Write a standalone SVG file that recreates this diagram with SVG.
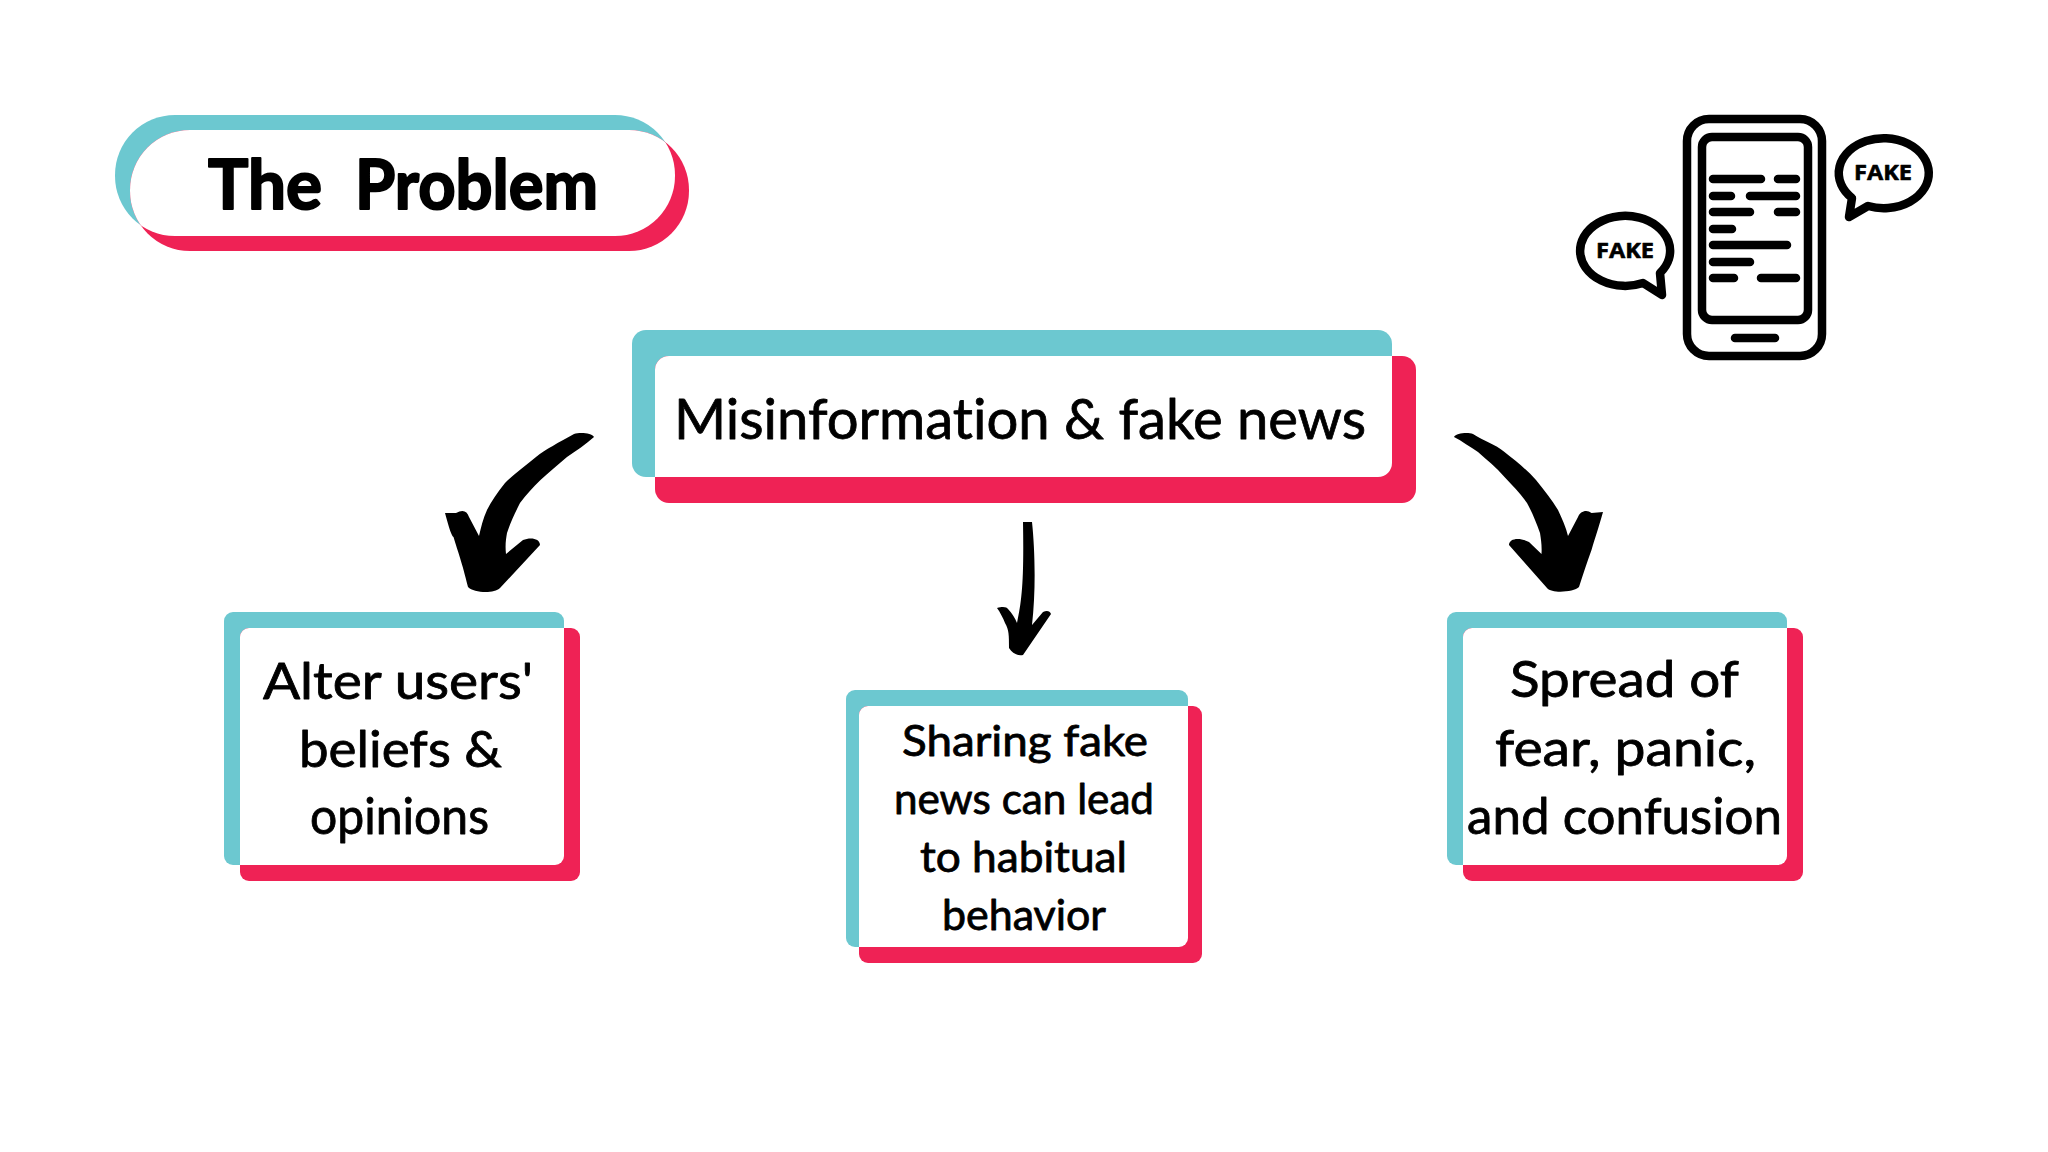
<svg xmlns="http://www.w3.org/2000/svg" width="2048" height="1152" viewBox="0 0 2048 1152">
<style>
.teal{fill:#6cc8d0}.red{fill:#ef2255}.white{fill:#fff}
text{font-family:"Comic Sans MS","Lato","Open Sans",sans-serif;fill:#000;stroke:#000;stroke-linejoin:round;font-variant-ligatures:none}
.t{stroke-width:.8}
.h{font-weight:700;font-size:68px;stroke-width:2}
.m{font-size:57px}.b{font-size:50px}.s{font-size:42px}
.f{font-family:"Open Sans",sans-serif;font-weight:700;font-size:21px;stroke-width:.6}
.ln{fill:none;stroke:#000;stroke-width:8.500;stroke-linecap:round;stroke-linejoin:round}
</style>
<defs>
<clipPath id="c0"><rect x="115" y="115" width="560" height="121" rx="60"/></clipPath>
<clipPath id="c1"><rect x="632" y="330" width="760" height="147" rx="14"/></clipPath>
<clipPath id="c2"><rect x="224" y="612" width="340" height="253" rx="9"/></clipPath>
<clipPath id="c3"><rect x="846" y="690" width="342" height="257" rx="9"/></clipPath>
<clipPath id="c4"><rect x="1447" y="612" width="340" height="253" rx="9"/></clipPath>
</defs>
<rect width="2048" height="1152" fill="#fff"/>
<g id="title">
<rect class="teal" x="115" y="115" width="560" height="121" rx="60"/>
<rect class="red" x="130" y="130" width="559" height="121" rx="60"/>
<rect class="white" x="130" y="130" width="559" height="121" rx="60" clip-path="url(#c0)"/>
<text class="h" y="209"><tspan x="208" textLength="114" lengthAdjust="spacingAndGlyphs">The</tspan> <tspan x="355" textLength="243" lengthAdjust="spacingAndGlyphs">Problem</tspan></text>
</g>
<g id="main">
<rect class="teal" x="632" y="330" width="760" height="147" rx="14"/>
<rect class="red" x="655" y="356" width="761" height="147" rx="14"/>
<rect class="white" x="655" y="356" width="761" height="147" rx="14" clip-path="url(#c1)"/>
<text class="t m" x="674" y="439" textLength="692" lengthAdjust="spacingAndGlyphs">Misinformation &amp; fake news</text>
</g>
<g id="alter">
<rect class="teal" x="224" y="612" width="340" height="253" rx="9"/>
<rect class="red" x="240" y="628" width="340" height="253" rx="9"/>
<rect class="white" x="240" y="628" width="340" height="253" rx="9" clip-path="url(#c2)"/>
<text class="t b" x="263" y="699" textLength="270" lengthAdjust="spacingAndGlyphs">Alter users'</text>
<text class="t b" x="299" y="767" textLength="203" lengthAdjust="spacingAndGlyphs">beliefs &amp;</text>
<text class="t b" x="310" y="834" textLength="179" lengthAdjust="spacingAndGlyphs">opinions</text>
</g>
<g id="sharing">
<rect class="teal" x="846" y="690" width="342" height="257" rx="9"/>
<rect class="red" x="859" y="706" width="343" height="257" rx="9"/>
<rect class="white" x="859" y="706" width="343" height="257" rx="9" clip-path="url(#c3)"/>
<text class="t s" x="902" y="756" textLength="246" lengthAdjust="spacingAndGlyphs">Sharing fake</text>
<text class="t s" x="894" y="814" textLength="260" lengthAdjust="spacingAndGlyphs">news can lead</text>
<text class="t s" x="920" y="872" textLength="207" lengthAdjust="spacingAndGlyphs">to habitual</text>
<text class="t s" x="942" y="930" textLength="164" lengthAdjust="spacingAndGlyphs">behavior</text>
</g>
<g id="spread">
<rect class="teal" x="1447" y="612" width="340" height="253" rx="9"/>
<rect class="red" x="1463" y="628" width="340" height="253" rx="9"/>
<rect class="white" x="1463" y="628" width="340" height="253" rx="9" clip-path="url(#c4)"/>
<text class="t b" x="1510" y="697" textLength="229" lengthAdjust="spacingAndGlyphs">Spread of</text>
<text class="t b" x="1495" y="766" textLength="261" lengthAdjust="spacingAndGlyphs">fear, panic,</text>
<text class="t b" x="1467" y="834" textLength="315" lengthAdjust="spacingAndGlyphs">and confusion</text>
</g>
<g id="phone">
<rect class="ln" x="1687" y="119" width="135" height="237" rx="22"/>
<rect class="ln" x="1702" y="137" width="106" height="183" rx="10"/>
<path class="ln" d="M1735 338H1775M1713 179H1761M1778 179H1796M1713 196H1731M1750 196H1796M1713 212H1750M1778 212H1796M1713 229H1732M1713 245H1787M1713 262H1750M1713 278H1734M1761 278H1796"/>
</g>
<g id="bubble-right">
<path class="ln" d="M1868 206A45 35 0 1 0 1852 198L1849 217Z"/>
<text class="f" x="1854" y="180" textLength="58" lengthAdjust="spacingAndGlyphs">FAKE</text>
</g>
<g id="bubble-left">
<path class="ln" d="M1660 273A45 35 0 1 0 1643 283L1662 295Z"/>
<text class="f" x="1596" y="258" textLength="58" lengthAdjust="spacingAndGlyphs">FAKE</text>
</g>
<g id="connectors" fill="#000">
<path d="M594 437C592 433 580 432 574 434C558 443 546 449 536 457C524 467 514 474 505 483C497 493 491 502 487 510C483 519 481 527 479 536L469 517C467 511 463 509 456 513L445 513C449 528 452 537 453.500 537C458 552 462 562 468 587C474 593 494 594 500 588L540 545C540 538 530 537 523 540L506 554C505 545 506 539 507 533C511 521 515 513 520 503C526 495 533 487 540.500 480C549 472 558 465 567 457C576 451 586 444 594 437Z"/>
<path d="M1023 522H1032C1035 550 1036 590 1032 625L1043 612C1047 610 1050 611 1051 614L1023 655C1018 656 1013 654 1009 648C1009 635 1009 630 1005 623C1003 618 1000 612 997 608C1003 606 1007 607 1008 609C1012 613 1015 618 1017 623C1022 600 1024 580 1023 522Z"/>
<path d="M1454 437C1456 433 1468 432 1473 434C1484 441 1495 444 1504.500 452C1516 461 1527 470 1536 480C1544 490 1552 500 1558 510C1562 519 1566 527 1568 536L1578 517C1580 511 1587 509 1591.500 513L1603 512C1598 530 1595 538 1591.500 550C1587 562 1583 575 1579 587C1574 592 1552 594 1547 588L1509 545C1509 538 1520 537 1529 542L1541.500 554C1542 545 1541 540 1540 533C1536 522 1532 512 1527 503C1520 493 1513 486 1504.500 477C1496 467 1487 460 1478 452C1470 447 1462 441 1454 437Z"/>
</g>
</svg>
